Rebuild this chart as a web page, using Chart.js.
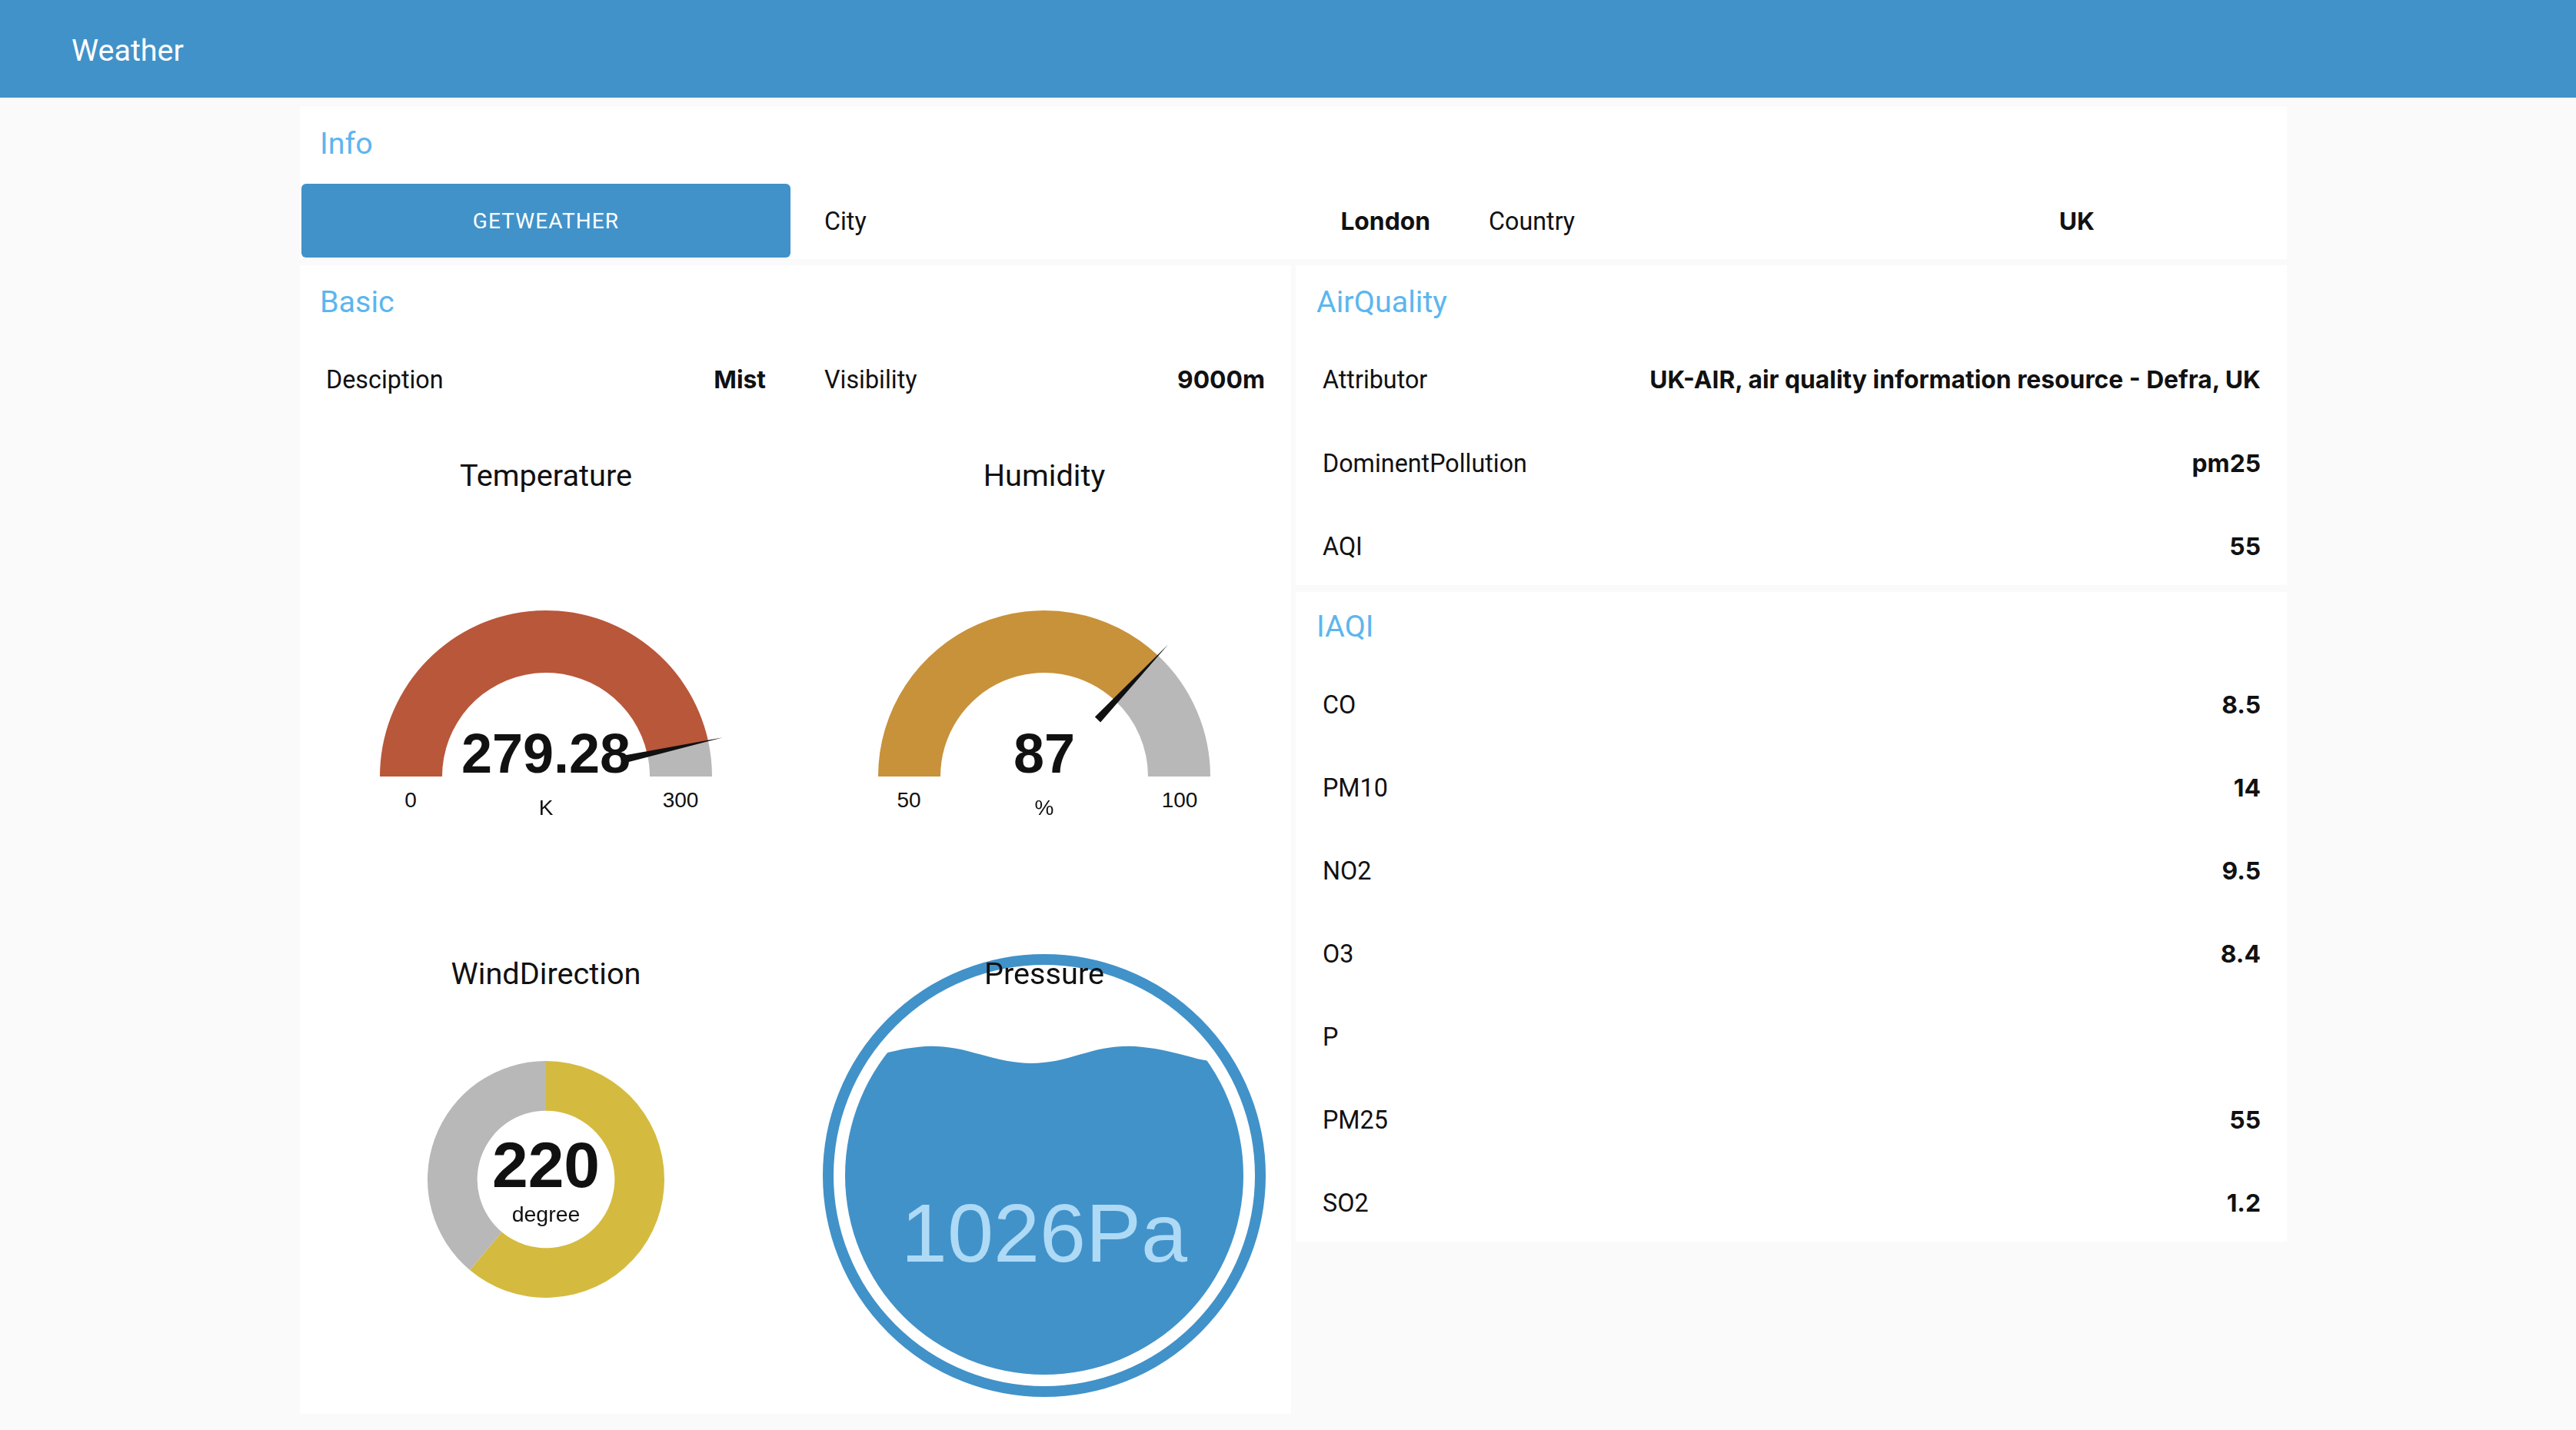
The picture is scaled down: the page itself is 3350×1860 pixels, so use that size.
<!DOCTYPE html>
<html>
<head>
<meta charset="utf-8">
<title>Weather</title>
<script src="https://cdn.jsdelivr.net/npm/chart.js@4"></script>
<style>
html, body { margin: 0; padding: 0; }
body { width: 3350px; height: 1860px; background: #fafafa; position: relative; overflow: hidden; font-family: Roboto, sans-serif; color: #111; }
.box { position: absolute; background: #fff; }
.t { position: absolute; white-space: nowrap; line-height: 1; transform: translateY(-50%); font-size: 32.3px; }
.r { transform: translate(-100%, -50%); }
.c { transform: translate(-50%, -50%); }
.b { font-weight: 700; }
.v { font-family: Inter, sans-serif; font-weight: 700; font-size: 31.8px; }
.sec { font-size: 39.5px; color: #5cb6ee; }
.chartTitle { font-size: 39.7px; }
.g { font-family: "Liberation Sans", sans-serif; }
canvas { position: absolute; }
</style>
</head>
<body>
<div class="box" style="left:0;top:0;width:3350px;height:127px;background:#4192c9"></div>
<div class="box" style="left:390px;top:139px;width:2584px;height:198px"></div>
<div class="box" style="left:390px;top:345px;width:1289px;height:1494px"></div>
<div class="box" style="left:1685px;top:345px;width:1289px;height:416px"></div>
<div class="box" style="left:1685px;top:770px;width:1289px;height:845px"></div>
<div class="box" style="left:392px;top:239px;width:636px;height:96px;background:#4192c9;border-radius:6px"></div>

<canvas id="tempChart" width="480" height="240" style="left:470px;top:770px"></canvas>
<canvas id="humChart" width="480" height="240" style="left:1118px;top:770px"></canvas>
<canvas id="windChart" width="308" height="308" style="left:556px;top:1380px"></canvas>
<canvas id="pressChart" width="576" height="576" style="left:1070px;top:1241px"></canvas>

<script>
// values
var temperature = [279.28];
var temperatureRange = [0, 300];
var humidity = [87];
var humidityRange = [50, 100];
var windDirection = [220];
var windRange = [0, 360];
var pressure = [1026];

// liquid surface, fraction of the inner circle
var waveX = [0, 0.05, 0.1, 0.155, 0.216, 0.278, 0.34, 0.405, 0.467, 0.53, 0.59, 0.65, 0.712, 0.775, 0.84, 0.9, 0.96, 1];
var waveLevel = [0.785, 0.796, 0.807, 0.819, 0.825, 0.819, 0.804, 0.788, 0.782, 0.788, 0.804, 0.819, 0.825, 0.819, 0.805, 0.79, 0.784, 0.787];

var infoLabels = ['City', 'Country'];
var infoValues = ['London', 'UK'];
var basicLabels = ['Desciption', 'Visibility'];
var basicValues = ['Mist', '9000m'];
var airLabels = ['Attributor', 'DominentPollution', 'AQI'];
var airValues = ['UK-AIR, air quality information resource - Defra, UK', 'pm25', '55'];
var iaqiLabels = ['CO', 'PM10', 'NO2', 'O3', 'P', 'PM25', 'SO2'];
var iaqiValues = ['8.5', '14', '9.5', '8.4', '', '55', '1.2'];

var BLUE = '#4192c9';
var GREY = '#b8b8b8';

function put(text, x, y, cls, style) {
    var el = document.createElement('div');
    el.className = 't ' + (cls || '');
    el.textContent = text;
    el.style.left = x + 'px';
    el.style.top = y + 'px';
    if (style) el.style.cssText += style;
    document.body.appendChild(el);
    return el;
}

// needle of the half gauges, follows the end of the value arc
var needlePlugin = {
    id: 'needle',
    afterDatasetsDraw: function (chart) {
        var arc = chart.getDatasetMeta(0).data[0];
        var a = arc.endAngle;
        var R = arc.outerRadius;
        var ctx = chart.ctx;
        var nx = Math.cos(a), ny = Math.sin(a);
        var rb = R * 0.47, rt = R * 1.09, w = 5;
        ctx.save();
        ctx.fillStyle = '#111';
        ctx.beginPath();
        ctx.moveTo(arc.x + nx * rb - ny * w, arc.y + ny * rb + nx * w);
        ctx.lineTo(arc.x + nx * rt, arc.y + ny * rt);
        ctx.lineTo(arc.x + nx * rb + ny * w, arc.y + ny * rb - nx * w);
        ctx.closePath();
        ctx.fill();
        ctx.restore();
    }
};

function gauge(id, value, range, color) {
    return new Chart(document.getElementById(id), {
        type: 'doughnut',
        data: {
            labels: ['value', 'rest'],
            datasets: [{
                data: [value - range[0], range[1] - value],
                backgroundColor: [color, GREY],
                borderWidth: 0
            }]
        },
        options: {
            responsive: false,
            animation: false,
            devicePixelRatio: 1,
            rotation: -90,
            circumference: 180,
            cutout: '62.5%',
            layout: { padding: { left: 24, right: 24, top: 24, bottom: 0 } },
            plugins: { legend: { display: false }, tooltip: { enabled: false } }
        },
        plugins: [needlePlugin]
    });
}

gauge('tempChart', temperature[0], temperatureRange, '#b9573a');
gauge('humChart', humidity[0], humidityRange, '#c8923a');

new Chart(document.getElementById('windChart'), {
    type: 'doughnut',
    data: {
        labels: ['value', 'rest'],
        datasets: [{
            data: [windDirection[0] - windRange[0], windRange[1] - windDirection[0]],
            backgroundColor: ['#d4bb3f', GREY],
            borderWidth: 0
        }]
    },
    options: {
        responsive: false,
        animation: false,
        devicePixelRatio: 1,
        cutout: '58%',
        plugins: { legend: { display: false }, tooltip: { enabled: false } }
    }
});

// ring around the liquid and the round clip of the water
var liquidPlugin = {
    id: 'liquid',
    beforeDatasetsDraw: function (chart) {
        var a = chart.chartArea;
        var cx = (a.left + a.right) / 2, cy = (a.top + a.bottom) / 2;
        var r = (a.right - a.left) / 2;
        var ctx = chart.ctx;
        ctx.save();
        ctx.strokeStyle = BLUE;
        ctx.lineWidth = 14;
        ctx.beginPath();
        ctx.arc(cx, cy, r + 22, 0, Math.PI * 2);
        ctx.stroke();
        ctx.beginPath();
        ctx.arc(cx, cy, r, 0, Math.PI * 2);
        ctx.clip();
    },
    afterDatasetsDraw: function (chart) {
        chart.ctx.restore();
    }
};

new Chart(document.getElementById('pressChart'), {
    type: 'line',
    data: {
        datasets: [{
            data: waveX.map(function (x, i) { return { x: x, y: waveLevel[i] }; }),
            backgroundColor: BLUE,
            borderWidth: 0,
            pointRadius: 0,
            cubicInterpolationMode: 'monotone',
            fill: 'start'
        }]
    },
    options: {
        responsive: false,
        animation: false,
        devicePixelRatio: 1,
        layout: { padding: 29 },
        scales: {
            x: { type: 'linear', min: 0, max: 1, display: false },
            y: { min: 0, max: 1, display: false }
        },
        plugins: { legend: { display: false }, tooltip: { enabled: false } }
    },
    plugins: [liquidPlugin]
});

// texts
put('Weather', 93, 66, '', 'font-size:39.5px;color:#fff');
put('Info', 416, 187, 'sec');
put('Basic', 416, 393, 'sec');
put('AirQuality', 1712, 393, 'sec');
put('IAQI', 1712, 815, 'sec');
put('GETWEATHER', 710, 288, 'c', 'font-size:28px;color:#fff;letter-spacing:1.1px');

put(infoLabels[0], 1072, 288);
put(infoValues[0], 1860, 288, 'r v');
put(infoLabels[1], 1936, 288);
put(infoValues[1], 2724, 288, 'r v');

put(basicLabels[0], 424, 494);
put(basicValues[0], 996, 494, 'r v');
put(basicLabels[1], 1072, 494);
put(basicValues[1], 1645, 494, 'r v');

airLabels.forEach(function (label, i) {
    put(label, 1720, 494 + i * 108.5);
    put(airValues[i], 2940, 494 + i * 108.5, 'r v');
});
iaqiLabels.forEach(function (label, i) {
    put(label, 1720, 916.5 + i * 108);
    put(iaqiValues[i], 2940, 916.5 + i * 108, 'r v');
});

put('Temperature', 710, 619, 'c chartTitle');
put('Humidity', 1358, 619, 'c chartTitle');
put('WindDirection', 710, 1267, 'c chartTitle');
put('Pressure', 1358, 1267, 'c chartTitle');

put(String(temperature[0]), 710, 980, 'c g b', 'font-size:72px');
put(String(humidity[0]), 1358, 980, 'c g b', 'font-size:72px');
put(String(temperatureRange[0]), 534, 1041, 'c g', 'font-size:28px');
put(String(temperatureRange[1]), 885, 1041, 'c g', 'font-size:28px');
put(String(humidityRange[0]), 1182, 1041, 'c g', 'font-size:28px');
put(String(humidityRange[1]), 1534, 1041, 'c g', 'font-size:28px');
put('K', 710, 1051, 'c g', 'font-size:28px');
put('%', 1358, 1051, 'c g', 'font-size:28px');

put(String(windDirection[0]), 710, 1516, 'c g b', 'font-size:84px;line-height:0.8');
put('degree', 710, 1579, 'c g', 'font-size:28.5px');
put(pressure[0] + 'Pa', 1358, 1604, 'c g', 'font-size:108px;color:#aedaf6');
</script>
</body>
</html>
